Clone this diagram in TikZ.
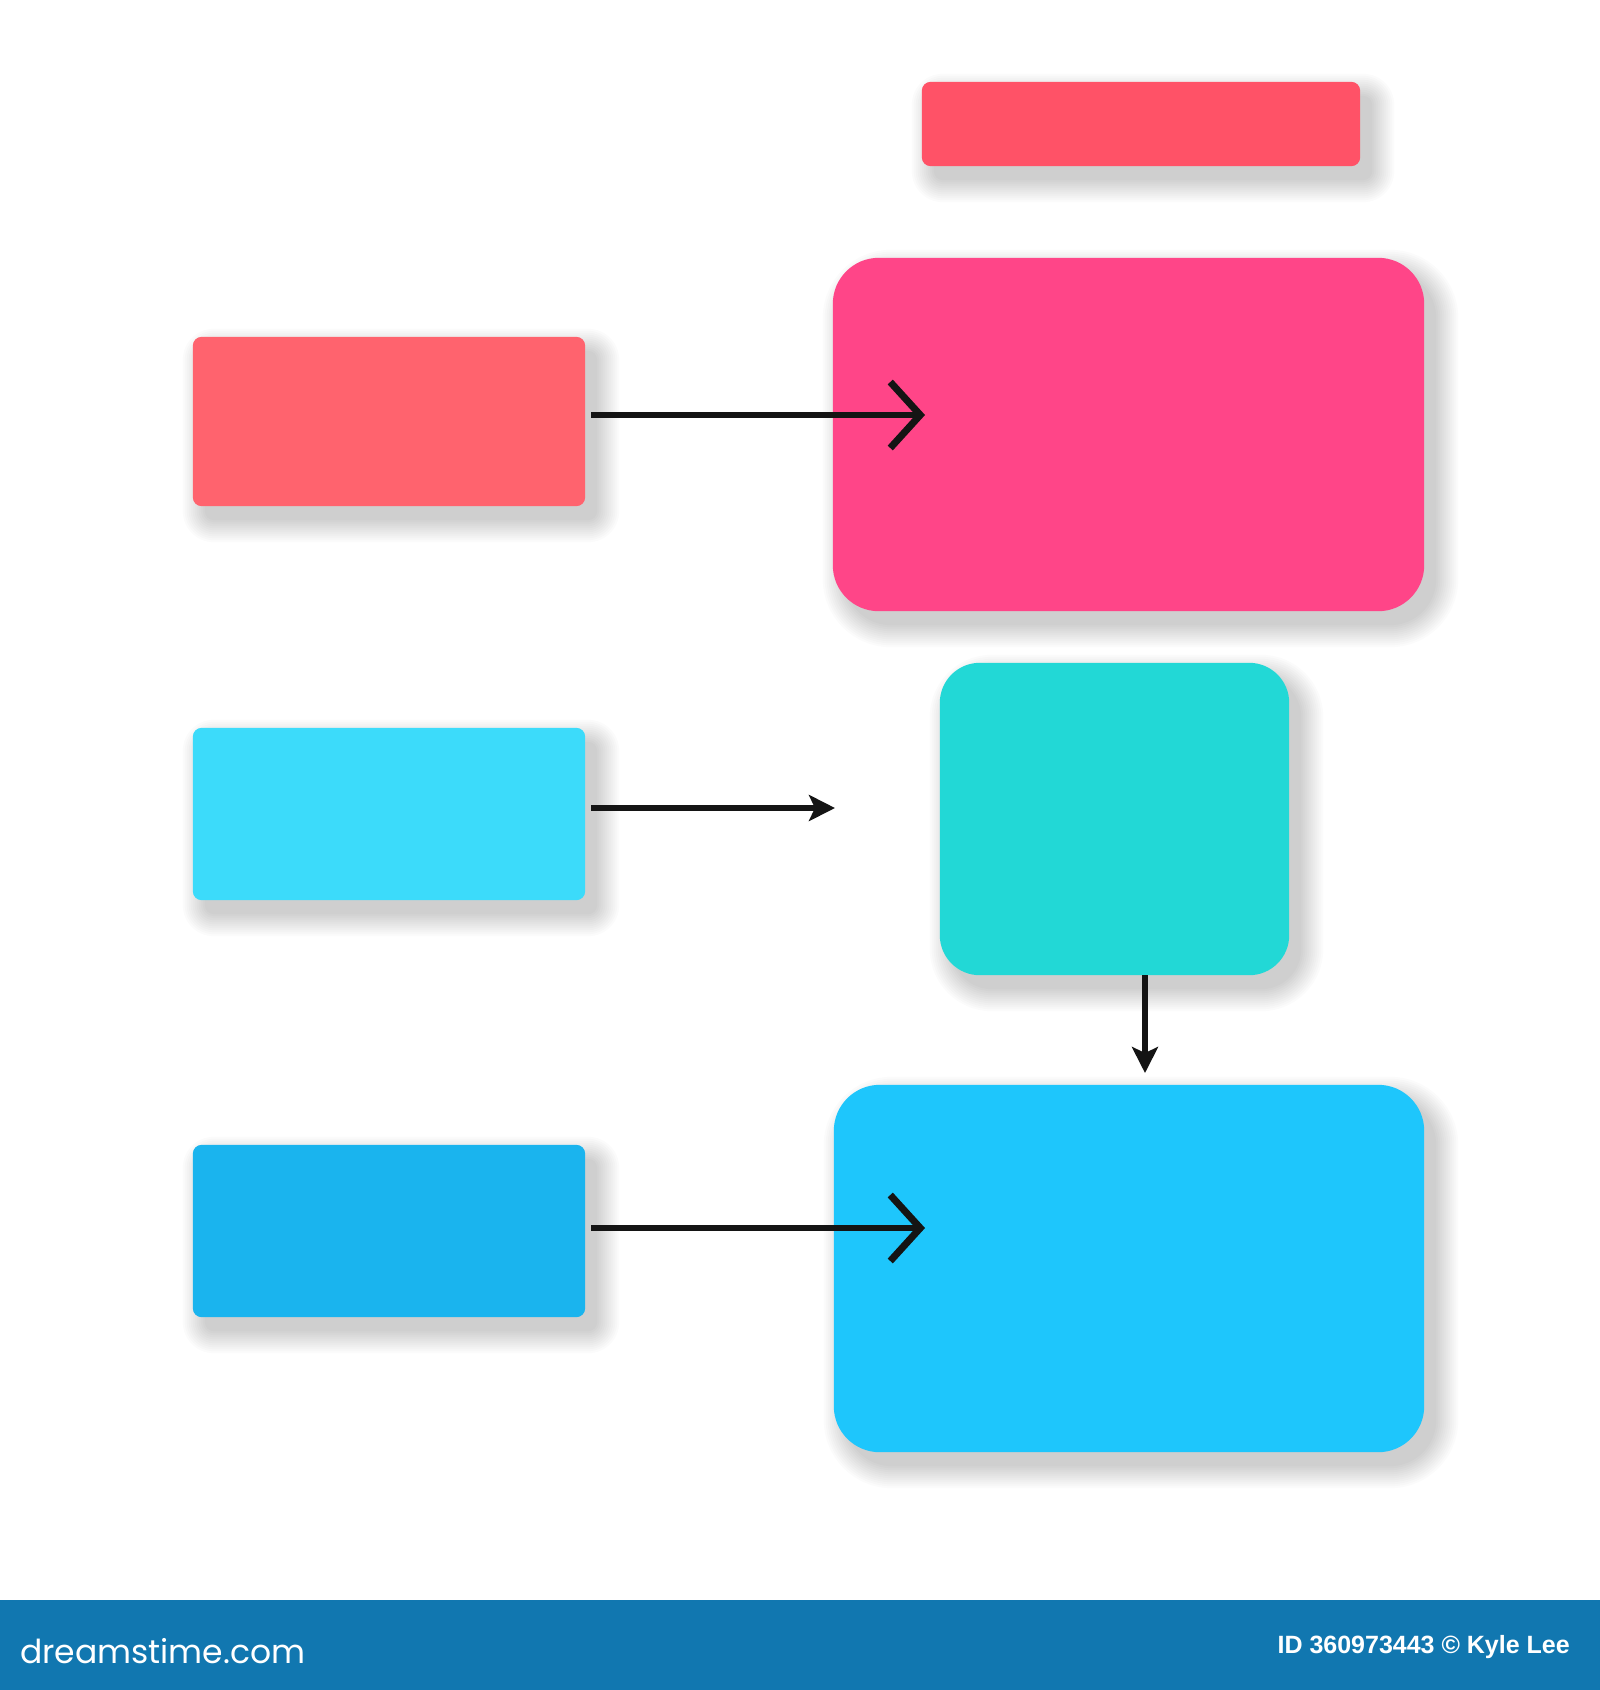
\documentclass[tikz,border=0pt]{standalone}
\usepackage{fontspec}
\setmainfont{Liberation Sans}
\newfontfamily\logofont{Poppins}
\newfontfamily\idfont{Liberation Sans}
\usetikzlibrary{arrows.meta,calc}
\definecolor{topred}{HTML}{FF5267}
\definecolor{coral}{HTML}{FF636E}
\definecolor{hotpink}{HTML}{FF4588}
\definecolor{cyanbox}{HTML}{3CDBFA}
\definecolor{tealbox}{HTML}{22D8D6}
\definecolor{bluebox}{HTML}{1AB4EE}
\definecolor{bigblue}{HTML}{1EC6FC}
\definecolor{banner}{HTML}{1177B0}
\tikzset{
  card/.style={rectangle, inner sep=0pt, draw=none},
  smallcard/.style={card, rounded corners=9pt},
  bigcard/.style={card, rounded corners=46pt},
  shaft/.style={line width=5.5pt, black!92},
  barb/.style={shaft, -{Straight Barb[length=30pt, width=66pt, line width=7pt]}},
  pointer/.style={shaft, -{Stealth[length=26pt, width=26pt, inset=6pt]}},
}
% soft shadow behind a node: #1 node name, #2 corner radius
\newcommand\cardshadow[2]{%
  \foreach \k in {0,2,...,22}{%
    \fill[black, opacity=0.016, rounded corners={#2+\k*1pt}]
      ($(#1.north west)+(12pt,-14pt)+(-\k pt,\k pt)$) rectangle
      ($(#1.south east)+(12pt,-14pt)+(\k pt,-\k pt)$);
  }%
}
\begin{document}
\begin{tikzpicture}[x=1pt,y=-1pt]
\useasboundingbox (0,0) rectangle (1600,1690);
\fill[white] (0,0) rectangle (1600,1690);

% box positions (invisible first, for shadows)
\path node[smallcard, minimum width=438pt, minimum height=84pt] (top) at (1141,124) {}
      node[bigcard, minimum width=591pt, minimum height=353pt] (pink) at (1128.5,434.5) {}
      node[smallcard, minimum width=392pt, minimum height=169pt] (red) at (389,421.5) {}
      node[smallcard, minimum width=392pt, minimum height=172pt] (cyan) at (389,814) {}
      node[card, rounded corners=40pt, minimum width=349pt, minimum height=312pt] (teal) at (1114.5,819) {}
      node[smallcard, minimum width=392pt, minimum height=172pt] (blue) at (389,1231) {}
      node[bigcard, minimum width=590pt, minimum height=367pt] (big) at (1129,1268.5) {};

\cardshadow{top}{9pt}
\cardshadow{pink}{46pt}
\cardshadow{red}{9pt}
\cardshadow{cyan}{9pt}
\cardshadow{teal}{40pt}
\cardshadow{blue}{9pt}
\cardshadow{big}{46pt}

% boxes
\fill[topred, rounded corners=9pt] (top.north west) rectangle (top.south east);
\fill[hotpink, rounded corners=46pt] (pink.north west) rectangle (pink.south east);
\fill[coral, rounded corners=9pt] (red.north west) rectangle (red.south east);
\fill[cyanbox, rounded corners=9pt] (cyan.north west) rectangle (cyan.south east);
\fill[tealbox, rounded corners=40pt] (teal.north west) rectangle (teal.south east);
\fill[bluebox, rounded corners=9pt] (blue.north west) rectangle (blue.south east);
\fill[bigblue, rounded corners=46pt] (big.north west) rectangle (big.south east);

% arrow ends
\coordinate (t1) at (925,415);
\coordinate (t2) at (835,808);
\coordinate (t3) at (1145,1073);
\coordinate (t4) at (925,1228);

\draw[barb] ([xshift=6pt]red.east |- t1) -- (t1);
\draw[pointer] ([xshift=6pt]cyan.east |- t2) -- (t2);
\draw[pointer] (teal.south -| t3) -- (t3);
\draw[barb] ([xshift=6pt]blue.east |- t4) -- (t4);

% banner
\fill[banner] (0,1600) rectangle (1600,1690);
\node[anchor=base west, inner sep=0pt, text=white, font=\logofont\fontsize{33}{33}\selectfont] (logo) at (20,1663) {dreamstime.com};
\node[anchor=base east, inner sep=0pt, text=white, font=\idfont\bfseries\fontsize{25}{25}\selectfont] (credit) at (1570,1653) {ID 360973443 © Kyle Lee};
\end{tikzpicture}
\end{document}
